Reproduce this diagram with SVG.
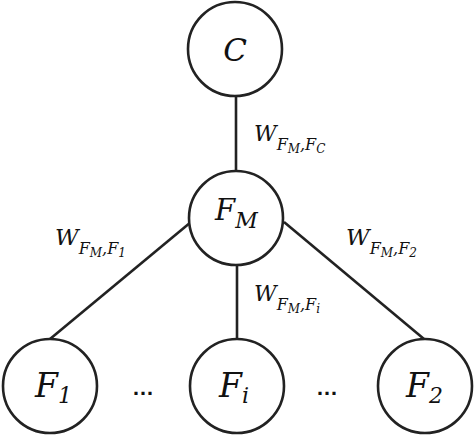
<svg xmlns="http://www.w3.org/2000/svg" width="474" height="436" viewBox="0 0 474 436">
<style>
.n{fill:#fff;stroke:#222;stroke-width:2.6}
.e{stroke:#222;stroke-width:2.6;fill:none}
.t{font-family:"DejaVu Serif","Liberation Serif",serif;font-style:italic;fill:#111}
.d{font-family:"Liberation Sans",sans-serif;font-weight:bold;fill:#111;font-size:22px}
</style>
<rect width="474" height="436" fill="#fff"/>
<g id="connectors">
<line class="e" x1="236" y1="96" x2="236" y2="171"/>
<line class="e" x1="50" y1="339" x2="191" y2="222"/>
<line class="e" x1="237" y1="265" x2="237" y2="339"/>
<line class="e" x1="284" y1="222" x2="424" y2="339"/>
<text class="t" x="254" y="141" font-size="22">W<tspan font-size="16" dy="9">F</tspan><tspan font-size="12" dy="3">M</tspan><tspan font-size="16" dy="-3">,F</tspan><tspan font-size="12" dy="3">C</tspan></text>
<text class="t" x="55" y="245" font-size="23">W<tspan font-size="16" dy="9">F</tspan><tspan font-size="12" dy="3">M</tspan><tspan font-size="16" dy="-3">,F</tspan><tspan font-size="12" dy="3">1</tspan></text>
<text class="t" x="346" y="245" font-size="23">W<tspan font-size="16" dy="9">F</tspan><tspan font-size="12" dy="3">M</tspan><tspan font-size="16" dy="-3">,F</tspan><tspan font-size="12" dy="3">2</tspan></text>
<text class="t" x="254" y="301" font-size="22">W<tspan font-size="16" dy="9">F</tspan><tspan font-size="12" dy="3">M</tspan><tspan font-size="16" dy="-3">,F</tspan><tspan font-size="12" dy="3">i</tspan></text>
</g>
<g id="node-C"><circle class="n" cx="235" cy="49" r="47"/><text class="t" x="235" y="61" font-size="31" text-anchor="middle">C</text></g>
<g id="node-FM"><circle class="n" cx="236" cy="218" r="47"/><text class="t" x="215" y="220" font-size="29">F<tspan font-size="22" dy="8">M</tspan></text></g>
<g id="node-F1"><circle class="n" cx="50" cy="386" r="47"/><text class="t" x="35" y="397" font-size="33">F<tspan font-size="22" dy="6">1</tspan></text></g>
<g id="node-Fi"><circle class="n" cx="237" cy="386" r="47"/><text class="t" x="219" y="397" font-size="33">F<tspan font-size="22" dy="6">i</tspan></text></g>
<g id="node-F2"><circle class="n" cx="425" cy="386" r="47"/><text class="t" x="406" y="397" font-size="33">F<tspan font-size="22" dy="6">2</tspan></text></g>
<text class="d" x="143" y="395" text-anchor="middle">…</text>
<text class="d" x="327" y="395" text-anchor="middle">…</text>
</svg>
